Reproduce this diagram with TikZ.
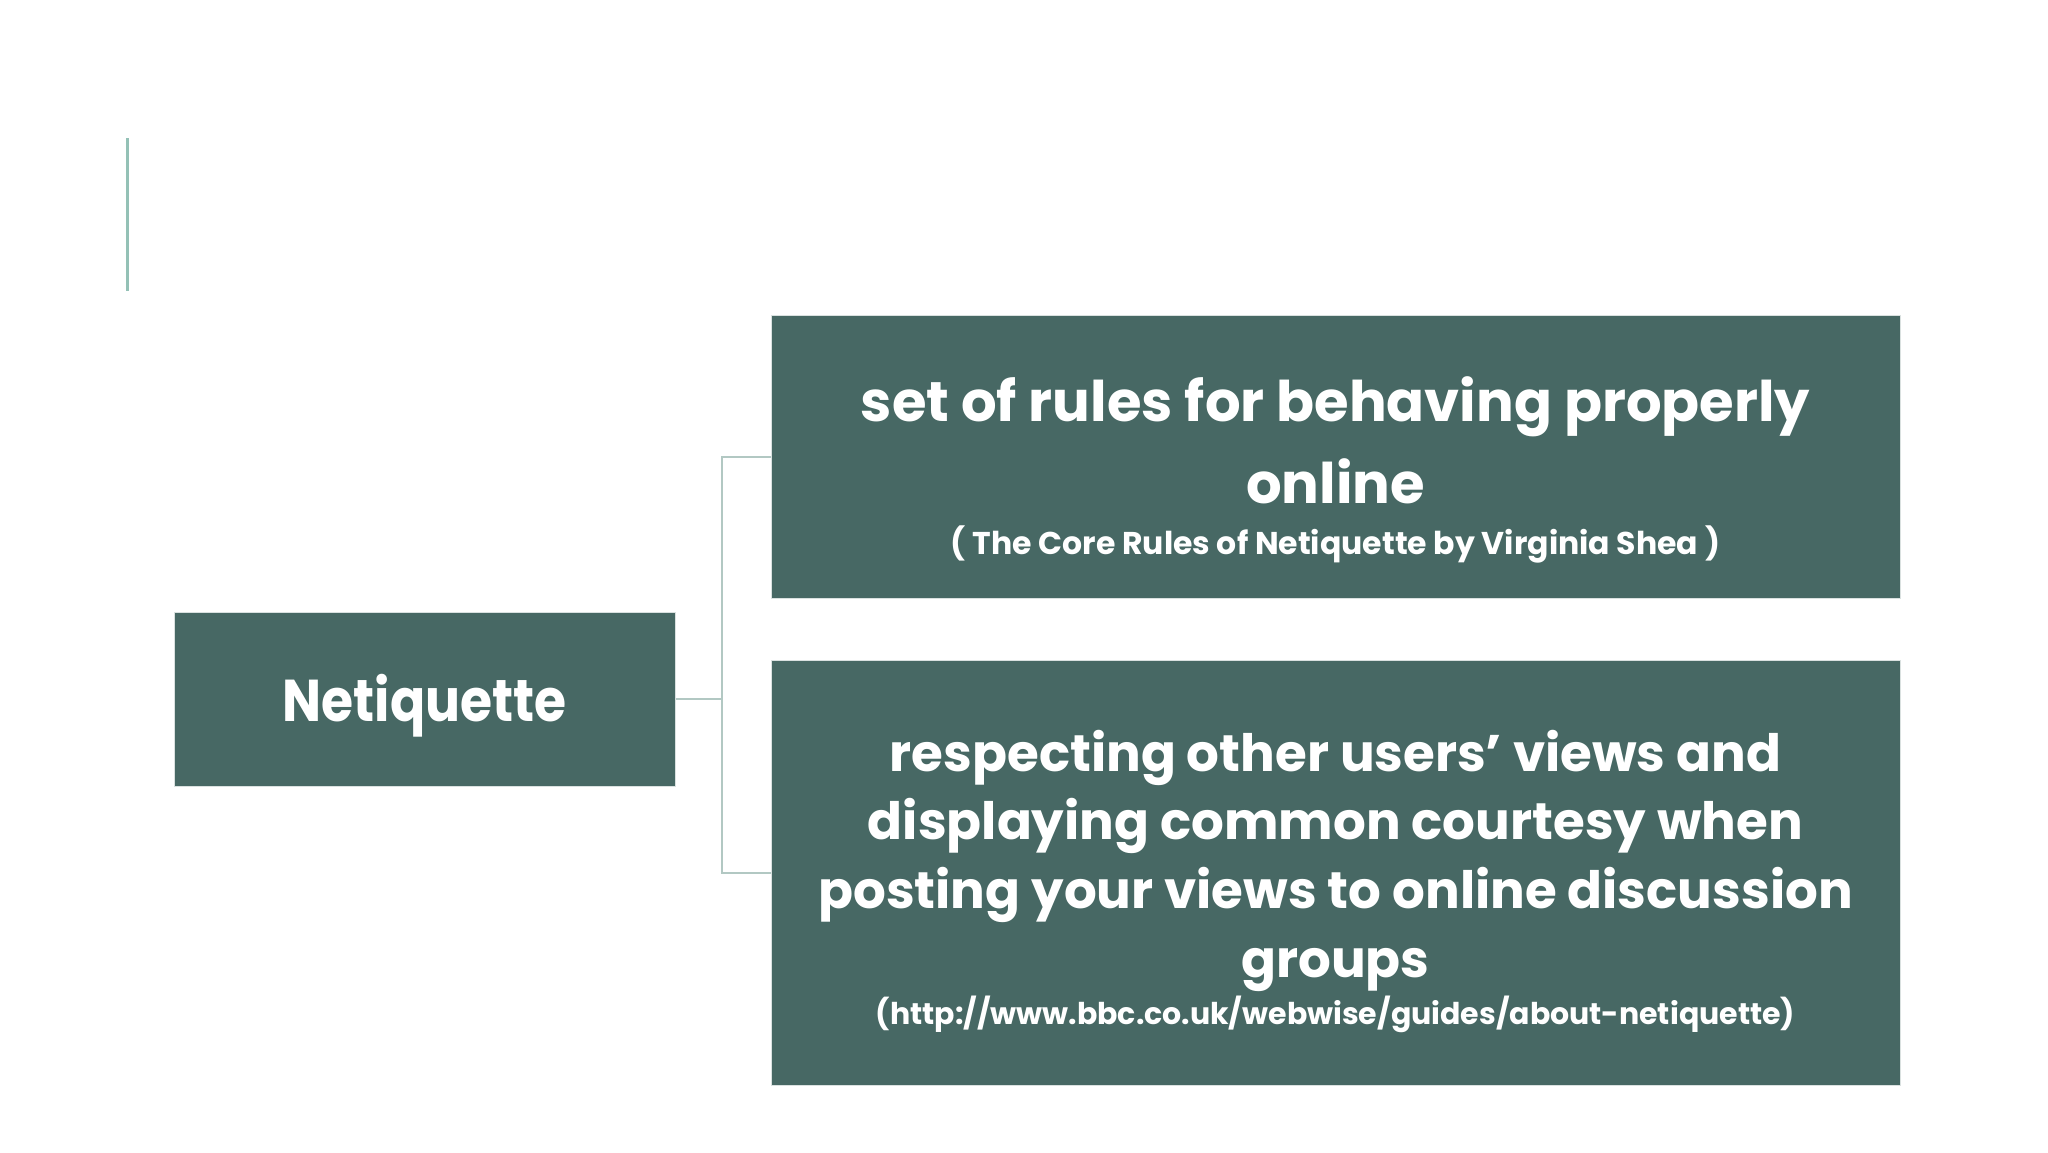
\documentclass[tikz,border=0pt]{standalone}
\usepackage{fontspec}
\setmainfont{Poppins}
\newfontfamily\popnarrow{Poppins}[FakeStretch=0.88]
\definecolor{boxfill}{RGB}{71,104,100}
\definecolor{conn}{RGB}{178,200,195}
\definecolor{accent}{RGB}{148,193,182}
\begin{document}
\begin{tikzpicture}[x=1pt,y=-1pt,
  box/.style={fill=boxfill, draw=white!80!boxfill, line width=1pt, inner sep=0pt},
  line/.style={text=white, inner sep=0pt, anchor=base, font=\bfseries},
  big/.style={font=\bfseries\fontsize{56}{60}\selectfont},
  mid/.style={font=\bfseries\fontsize{51.5}{55}\selectfont},
  small/.style={font=\bfseries\fontsize{31.5}{34}\selectfont},
  url/.style={font=\bfseries\fontsize{30}{34}\selectfont},
  link/.style={draw=conn, line width=2pt}]
\useasboundingbox[fill=white] (0,0) rectangle (2048,1152);
\coordinate (acc1) at (127,138);
\coordinate (acc2) at (127,291);
\draw[accent, line width=3pt] (acc1) -- (acc2);
% boxes
\node[box, minimum width=501pt, minimum height=174pt] (root) at (424.5,699) {};
\node[box, minimum width=1129pt, minimum height=283pt] (top) at (1335.5,456.5) {};
\node[box, minimum width=1129pt, minimum height=425pt] (bot) at (1335.5,872.5) {};
% texts
\node[line, font=\popnarrow\bfseries\fontsize{59}{66}\selectfont] (rootT) at (424.5,721) {Netiquette};
\node[line, big] (t1) at (1335.5,421) {set of rules for behaving properly};
\node[line, big] (t2) at (1335.5,503) {online};
\node[line, small] (t3) at (1335.5,554) {( The Core Rules of Netiquette by Virginia Shea )};
\node[line, mid] (b1) at (1335.5,771) {respecting other users’ views and};
\node[line, mid] (b2) at (1335.5,839) {displaying common courtesy when};
\node[line, mid] (b3) at (1335.5,908) {posting your views to online discussion};
\node[line, mid] (b4) at (1335.5,977) {groups};
\node[line, url] (b5) at (1335.5,1024) {(http://www.bbc.co.uk/webwise/guides/about-netiquette)};
% connectors
\coordinate (j) at (722,699);
\draw[link] (root.east) -- (j);
\draw[link] (top.west) -| (j);
\draw[link] (bot.west) -| (j);
\end{tikzpicture}
\end{document}
